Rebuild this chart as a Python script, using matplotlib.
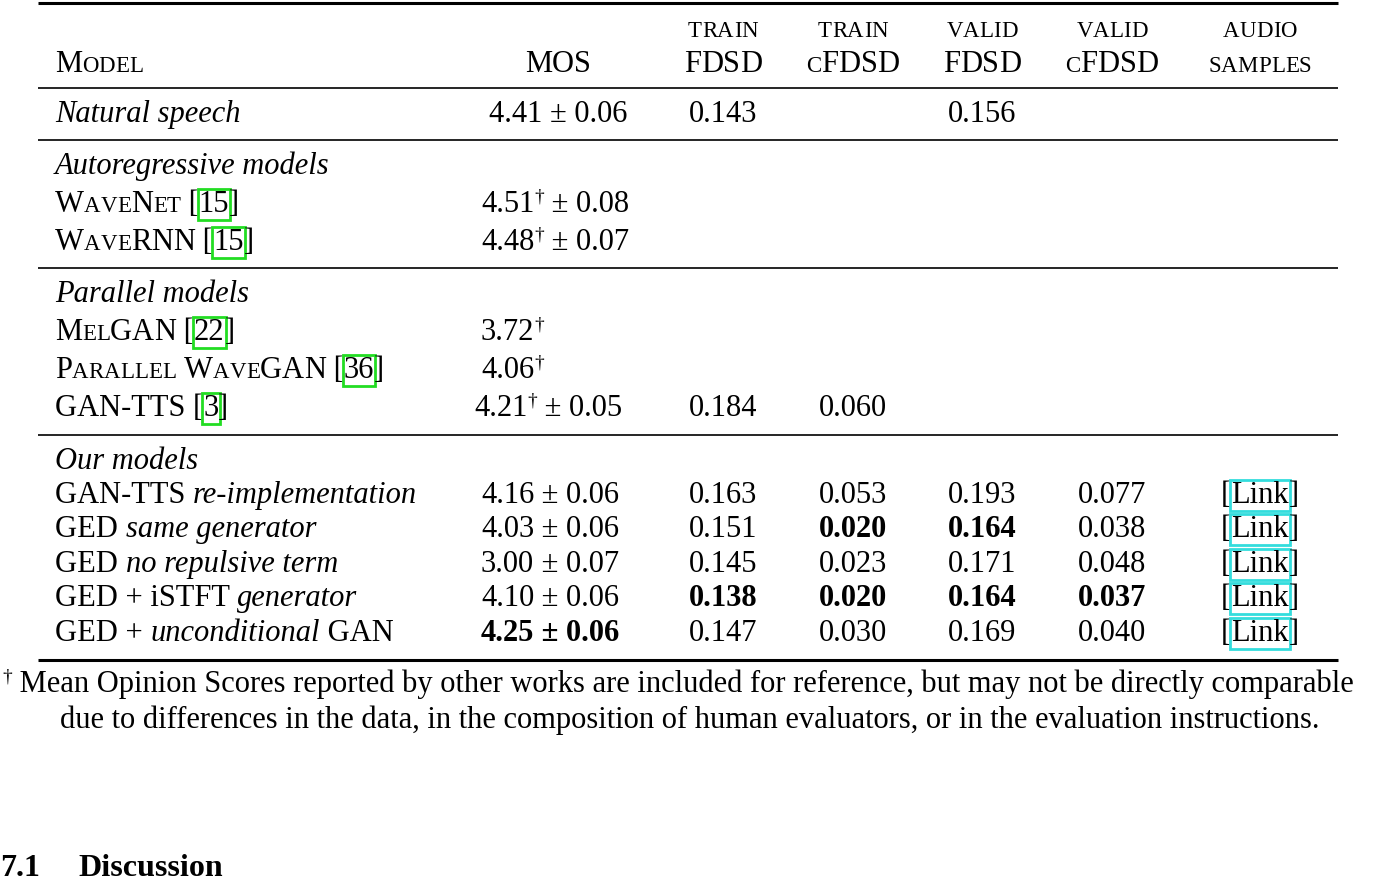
import matplotlib
matplotlib.use("Agg")
import matplotlib.pyplot as plt

FS = 22
SC = 16.5
FAM = "Liberation Serif"

col_headers = [("", "MOS"), ("train", "FDSD"), ("train", "cFDSD"), ("valid", "FDSD"), ("valid", "cFDSD"), ("audio", "samples")]
col_x = [558, 723, 853, 982, 1112, 1260]

sections = ["Natural speech", "Autoregressive models", "Parallel models", "Our models"]
models = [
    [],
    [[("WaveNet", "sc"), (" [", "n"), ("15", "cite"), ("]", "n")],
     [("WaveRNN", "sc"), (" [", "n"), ("15", "cite"), ("]", "n")]],
    [[("MelGAN", "sc"), (" [", "n"), ("22", "cite"), ("]", "n")],
     [("Parallel WaveGAN", "sc"), (" [", "n"), ("36", "cite"), ("]", "n")],
     [("GAN-TTS [", "n"), ("3", "cite"), ("]", "n")]],
    [[("GAN-TTS ", "n"), ("re-implementation", "i")],
     [("GED ", "n"), ("same generator", "i")],
     [("GED ", "n"), ("no repulsive term", "i")],
     [("GED + iSTFT ", "n"), ("generator", "i")],
     [("GED + ", "n"), ("unconditional", "i"), (" GAN", "n")]],
]
natural = ["4.41 ± 0.06", "0.143", "", "0.156", "", ""]
mos_main = [["4.51", "4.48"], ["3.72", "4.06", "4.21"], ["4.16", "4.03", "3.00", "4.10", "4.25"]]
mos_err = [["0.08", "0.07"], ["", "", "0.05"], ["0.06", "0.06", "0.07", "0.06", "0.06"]]
mos_dagger = [[True, True], [True, True, True], [False] * 5]
other_vals = [
    [["", "", "", ""], ["", "", "", ""]],
    [["", "", "", ""], ["", "", "", ""], ["0.184", "0.060", "", ""]],
    [["0.163", "0.053", "0.193", "0.077"],
     ["0.151", "0.020", "0.164", "0.038"],
     ["0.145", "0.023", "0.171", "0.048"],
     ["0.138", "0.020", "0.164", "0.037"],
     ["0.147", "0.030", "0.169", "0.040"]],
]
bold_cells = {(2, 4, 0), (2, 1, 2), (2, 1, 3), (2, 3, 1), (2, 3, 2), (2, 3, 3), (2, 3, 4)}
footnote = ["Mean Opinion Scores reported by other works are included for reference, but may not be directly comparable",
            "due to differences in the data, in the composition of human evaluators, or in the evaluation instructions."]

fig = plt.figure(figsize=(13.77, 8.8), dpi=100)
ax = fig.add_axes([0, 0, 1, 1])
ax.set_xlim(0, 1377); ax.set_ylim(880, 0); ax.axis("off")
R = fig.canvas.get_renderer()

def expand(text, kind):
    out = []
    if kind == "sc":
        for ch in text:
            if ch.islower():
                out.append((ch.upper(), dict(size=SC)))
            else:
                out.append((ch, dict(size=FS)))
    elif kind == "i":
        out.append((text, dict(size=FS, style="italic")))
    elif kind == "b":
        out.append((text, dict(size=FS, weight="bold")))
    elif kind == "cite":
        out.append((text, dict(size=FS, cite="#22dd22")))
    elif kind == "link":
        out.append((text, dict(size=FS, cite="#33dddd")))
    elif kind == "sup":
        out.append((text, dict(size=14, dy=-11)))
    else:
        out.append((text, dict(size=FS)))
    return out

def draw_runs(x, y, runs, ha="left"):
    pieces = []
    for t, k in runs:
        pieces += expand(t, k)
    arts = []
    total = 0
    for t, p in pieces:
        kw = dict(fontsize=p["size"], family=FAM, va="baseline", ha="left",
                  fontstyle=p.get("style", "normal"), fontweight=p.get("weight", "normal"))
        if "cite" in p:
            kw["bbox"] = dict(facecolor="none", edgecolor=p["cite"], pad=0.8, lw=2)
        a = ax.text(0, y + p.get("dy", 0), t, **kw)
        w = a.get_window_extent(R).width if t.strip() else p["size"] * 0.25 * 100 / 72 * len(t)
        arts.append((a, total))
        total += w
    x0 = x - total / 2 if ha == "center" else x
    for a, off in arts:
        a.set_x(x0 + off)

def lw_rule(y, lw):
    ax.plot([38, 1338], [y, y], color="black", lw=lw, solid_capstyle="butt")

lw_rule(3, 2.2); lw_rule(88, 1.2); lw_rule(140, 1.2); lw_rule(268, 1.2); lw_rule(435, 1.2); lw_rule(660, 2.2)

draw_runs(55, 72, [("Model", "sc")])
for (top, bot), x in zip(col_headers, col_x):
    if top:
        draw_runs(x, 37, [(top, "sc")], "center")
    draw_runs(x, 72, [(bot, "sc")], "center")

draw_runs(55, 122, [(sections[0], "i")])
for v, x in zip(natural, col_x):
    if v:
        draw_runs(x, 122, [(v, "n")], "center")

sec_y = [174, 302, 469]
row_y = [[212, 250], [340, 378, 416], [503, 537, 572, 606, 641]]
for g in range(3):
    draw_runs(55, sec_y[g], [(sections[g + 1], "i")])
    for r, y in enumerate(row_y[g]):
        draw_runs(55, y, models[g + 1][r])
        bold = (2, r, 0) in bold_cells
        k = "b" if bold else "n"
        runs = [(mos_main[g][r], k)]
        if mos_dagger[g][r]:
            runs.append(("†", "sup"))
        if mos_err[g][r]:
            runs.append((" ± " + mos_err[g][r], k))
        draw_runs(474 if (g == 1 and r == 2) else 481, y, runs, "left")
        for c, v in enumerate(other_vals[g][r]):
            if v:
                kk = "b" if (2, r, c + 1) in bold_cells else "n"
                draw_runs(col_x[c + 1], y, [(v, kk)], "center")
        if g == 2:
            draw_runs(1260, y, [("[", "n"), ("Link", "link"), ("]", "n")], "center")

draw_runs(2, 692, [("†", "sup"), (" " + footnote[0], "n")])
draw_runs(690, 728, [(footnote[1], "n")], "center")
ax.text(0, 876, "7.1", fontsize=23, family=FAM, fontweight="bold", va="baseline")
ax.text(78, 876, "Discussion", fontsize=23, family=FAM, fontweight="bold", va="baseline")

fig.savefig("out.png", dpi=100)
